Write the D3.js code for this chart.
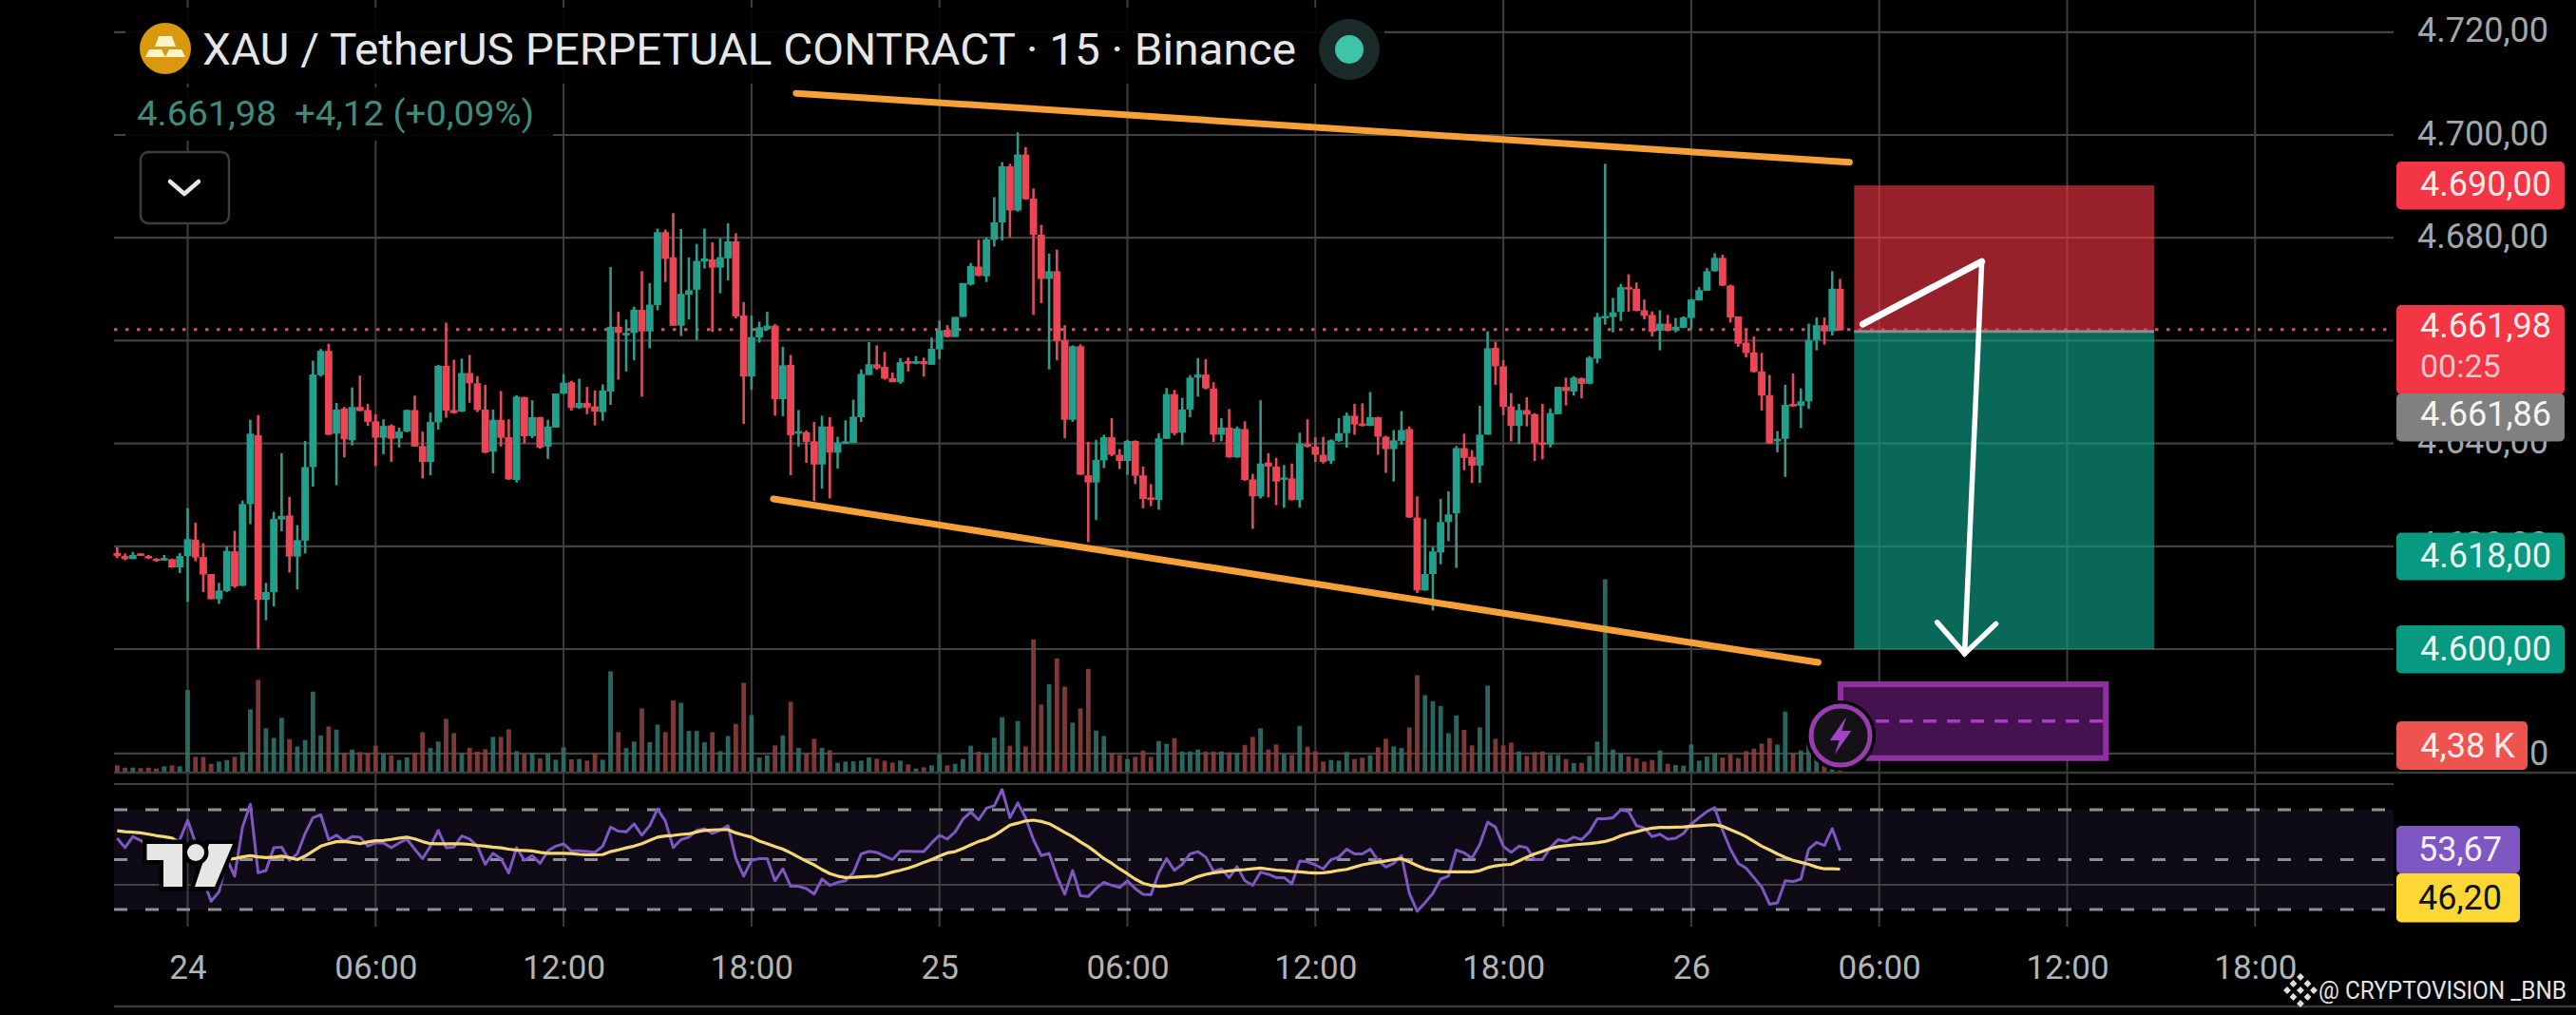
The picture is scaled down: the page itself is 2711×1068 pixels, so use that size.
<!DOCTYPE html>
<html><head><meta charset="utf-8">
<script src="https://cdn.jsdelivr.net/npm/d3@7/dist/d3.min.js"></script>
<style>
html,body{margin:0;padding:0;background:#000;overflow:hidden}
text{font-family:Roboto,sans-serif;white-space:pre}
</style></head><body><svg id="c" width="2711" height="1068"></svg>
<script>
const opens=[4618.7,4618.1,4617.5,4618.6,4618.1,4617.6,4617.3,4617.5,4615.9,4618.1,
4621.3,4617.9,4614.6,4609.7,4611.3,4619,4612.3,4628.2,4641.6,4609.6,
4611.1,4625.2,4626,4618,4621.1,4635.4,4653.3,4658,4641.9,4646.8,
4640.6,4647.1,4646.5,4644.3,4641.1,4643.5,4641,4642.3,4646.5,4639.5,
4636.4,4644.1,4655.1,4646.5,4646.2,4653.7,4651.7,4646.6,4638.4,4644.6,
4641.2,4632.9,4649,4641.4,4645.1,4639.4,4643.1,4649.7,4651.9,4646.9,
4647.9,4647.2,4646.1,4650.1,4662.7,4661.2,4661.5,4666,4661.8,4666.9,
4681.1,4676.2,4662.9,4668.9,4669.9,4675.4,4675.8,4674.2,4676,4679.3,
4664.9,4653,4660.6,4662.2,4662.9,4648.6,4655.3,4641.9,4642.2,4640.4,
4635.9,4643.3,4638.2,4640,4640.1,4645.1,4653.3,4655.4,4654.9,4652.7,
4651.9,4656,4655.5,4656,4655.3,4658.3,4662.1,4660.7,4664.6,4670.9,
4674.4,4672.5,4679.6,4683,4693.9,4685.3,4696.2,4687.6,4680.6,4672,
4673.5,4660.1,4644.6,4658.9,4633.8,4632.4,4636.7,4641.2,4637.8,4636.6,
4640.5,4633.8,4629.5,4629,4640.9,4649.6,4642.1,4646.6,4652.8,4653.4,
4650.7,4641.7,4643.1,4637.3,4642.8,4633,4629.7,4636.3,4635.5,4633.1,
4633.2,4629,4639.9,4639.4,4637.8,4636.6,4640.5,4642,4645.4,4643.9,
4643.4,4645.1,4641.3,4638.9,4640.5,4642.8,4625.6,4611.4,4614.6,4618.8,
4624.7,4626.4,4639.1,4637.4,4635.7,4641.7,4658.6,4655,4647.2,4643.4,
4646.5,4645.7,4640.2,4639.8,4645.7,4651,4650.1,4652.7,4651.6,4656.5,
4664.4,4664.6,4665.6,4670.4,4670.1,4665.9,4665,4661.9,4663.3,4662,
4662.5,4664.4,4667.8,4669.7,4673.5,4676.1,4670.7,4664.7,4659.6,4657.7,
4654,4649.4,4640.4,4640.9,4647.7,4647.3,4648.2,4660.1,4663,4661.8,
4670.1];
const closes=[4618.1,4617.5,4618.3,4618.3,4617.7,4617.2,4617.7,4615.9,4618.1,4621.4,
4617.8,4614.5,4609.7,4611.4,4619.1,4612.2,4628.2,4641.9,4609.6,4611.1,
4625.3,4625.9,4618,4621.2,4635.4,4653.4,4658,4641.7,4646.6,4640.8,
4647.1,4646.3,4644.2,4641.1,4643.4,4640.9,4642.3,4646.5,4639.4,4636.4,
4644.2,4655.1,4646.4,4645.9,4653.7,4651.7,4646.5,4638.2,4644.6,4641.1,
4633,4649.1,4641.4,4645.1,4639.2,4643.3,4649.7,4651.8,4646.9,4647.9,
4646.9,4646.2,4650.3,4662.7,4661.5,4661.5,4666,4661.8,4667,4681.1,
4675.9,4662.9,4669.1,4669.8,4675.5,4676,4674.2,4676.2,4679.3,4664.7,
4653,4660.7,4662.6,4662.9,4648.6,4655.2,4641.6,4642.4,4640.3,4635.9,
4643.3,4638.2,4640.2,4640.4,4645.2,4653.5,4655.4,4654.6,4652.6,4651.9,
4655.8,4655.5,4656,4655.4,4658.4,4662,4660.7,4664.6,4671.2,4674.5,
4672.6,4679.7,4683,4693.9,4685.3,4696.2,4687.5,4680.6,4672,4673.5,
4659.9,4644.6,4658.9,4633.9,4632.4,4636.8,4641.2,4637.8,4636.6,4640.5,
4633.7,4629.2,4629,4641,4649.6,4642,4646.6,4652.8,4653.4,4650.7,
4641.7,4643.1,4637.3,4642.9,4632.9,4629.7,4636.1,4635.5,4632.6,4633.4,
4629,4640,4639.4,4637.8,4636.4,4640.6,4642,4645.4,4643.7,4643.4,
4645.1,4641.3,4638.9,4640.6,4642.6,4625.6,4611.4,4614.6,4619,4624.7,
4626.2,4639.1,4637.2,4635.7,4641.7,4658.5,4655,4647.1,4643.4,4646.5,
4645.6,4640,4639.8,4645.9,4651,4650.2,4652.8,4651.6,4656.7,4664.6,
4664.8,4665.5,4670.4,4670.1,4665.8,4664.8,4661.7,4663.3,4661.9,4662.7,
4664.5,4668,4669.8,4673.5,4676.1,4670.7,4664.5,4659.4,4657.6,4653.9,
4649.3,4640,4640.9,4647.5,4647.2,4648.2,4660.1,4663,4661.8,4670.1,
4661.98];
const highs=[4619.8,4618.6,4618.9,4618.7,4618.3,4617.7,4618.3,4617.6,4618.7,4627.4,
4624.6,4620.6,4614.6,4612.9,4620,4623,4628.9,4644.6,4645.5,4612.9,
4626.7,4638.1,4629.6,4624.1,4640.5,4656.1,4658.4,4659.4,4647.9,4647.1,
4650.9,4653.2,4647.7,4645.7,4644.7,4643.7,4643.1,4646.6,4649.3,4642.3,
4646,4655.3,4663.5,4656.3,4656.5,4657.2,4653.1,4651.4,4646.6,4650.2,
4644.7,4649.4,4649.1,4648.4,4645.2,4644.6,4649.7,4653.5,4652.2,4652.6,
4651,4650.3,4651.5,4674.3,4665.6,4664.1,4666.6,4673.5,4671.2,4681.8,
4681.6,4684.8,4681.7,4676.2,4678.8,4681.8,4679.1,4679.9,4682.8,4680.9,
4667.5,4664.9,4663.7,4665.6,4663.2,4658.8,4657.2,4646.5,4642.5,4644.2,
4645.4,4645.1,4641.3,4644.5,4648.5,4654.4,4659.7,4659.1,4657.8,4653.8,
4656.6,4656.7,4657,4656.7,4660.6,4663.9,4663,4664.6,4671.2,4675.1,
4679.6,4680,4687.9,4694.7,4694.4,4700.5,4697.6,4689.6,4682.5,4676.9,
4677.7,4663,4659.1,4659.3,4640.3,4640.7,4641.7,4644.9,4638.9,4640.7,
4640.6,4635.5,4632.1,4642,4650.8,4650.4,4648.9,4653.3,4656.6,4656.4,
4651.9,4644.9,4646.7,4643.3,4644.3,4634.1,4648.4,4638.1,4637.2,4635.8,
4636.1,4642.1,4644.7,4641.2,4641.3,4640.8,4644.9,4646,4647.7,4647.8,
4650,4645.2,4641.5,4642.6,4646.3,4643.3,4629.7,4625.3,4619.9,4629.2,
4630.7,4639.5,4641.9,4638.7,4647.3,4661.8,4659.8,4656.2,4649.8,4647.7,
4649,4645.9,4647.7,4646.8,4651,4652.8,4653.1,4652.8,4657,4665.4,
4694.4,4668.3,4671,4672.9,4671.3,4668,4665.7,4665.9,4665,4664.4,
4664.7,4668.1,4670.4,4674.1,4677,4676.7,4670.9,4664.7,4661.9,4660.8,
4657.6,4653.3,4642.4,4651.4,4653.6,4650.7,4663.3,4664.5,4664.5,4673.5,
4672];
const lows=[4617.7,4617.3,4617.5,4618.1,4617.5,4617,4617.2,4615.8,4614.8,4609.2,
4617.1,4611.1,4609.7,4608.8,4611.1,4611.9,4612.3,4624.3,4600,4605.6,
4608.3,4622.9,4614.9,4611.6,4618.6,4631.6,4653,4641.6,4631.9,4637.3,
4639.6,4646.3,4643.4,4635.6,4637.9,4636.4,4639.2,4642.2,4639.4,4633.2,
4633.8,4642.7,4645,4645.8,4646.1,4647.9,4646.1,4638.1,4634.2,4639.4,
4632.9,4632.4,4640,4641,4639,4637,4643.1,4649.6,4646.4,4646.7,
4645.7,4643.5,4644.4,4647.5,4652.4,4654,4656.2,4649.1,4658.5,4665.9,
4671.4,4662.9,4660.9,4664.1,4660.1,4674,4661.7,4669.2,4671.7,4664.3,
4643.8,4650.4,4659.6,4662,4645.4,4645.3,4633.8,4639.4,4636.2,4628.8,
4631.2,4629.3,4635.1,4640,4640.1,4644.2,4653.3,4654.3,4652.4,4651.9,
4651.6,4654,4655.4,4653,4655.3,4656.4,4660.6,4660.7,4664.6,4670.7,
4672.5,4671.4,4678.3,4679.5,4680.1,4685.1,4687.4,4665,4667.3,4654.4,
4656.2,4641,4644.2,4633.9,4620.8,4625.1,4635.2,4637.5,4635,4633.9,
4632.1,4627.4,4627.8,4627.1,4640.9,4641.6,4639.7,4645.1,4649.1,4650.5,
4640.3,4640.4,4637.2,4637.2,4632.7,4623.4,4629.3,4629.5,4628,4627.5,
4628.9,4627.5,4639.2,4636.4,4636.1,4636,4640.3,4639.2,4641.7,4643.3,
4643.4,4637.8,4634.3,4632.6,4639.7,4625.5,4610.9,4611.4,4607.5,4616.5,
4621,4615.8,4634.8,4632.3,4632.3,4641.7,4651.4,4645.5,4640.4,4639.9,
4643.3,4636.6,4636.9,4639.2,4645.7,4647.4,4649.3,4648.8,4651.5,4655.6,
4663.1,4661.6,4663.8,4665.6,4665.7,4664.1,4660.8,4658.1,4661.8,4661.6,
4662.4,4662.2,4667.8,4669.7,4673.4,4670.6,4663.5,4658.8,4656.7,4653.8,
4646.4,4639.9,4638.3,4633.5,4647.1,4643,4646.7,4658.1,4659.2,4661,
4661.98];
const volumes=[1.08,.7,.7,.6,.7,.54,.92,1.08,.92,13.95,
2.54,2.54,1.35,1.73,2,2.54,3.35,10.65,15.68,7.41,
5.78,9.19,5.57,4.32,5.41,13.68,6.22,7.73,7.19,3.19,
3.78,3.35,3.24,4.43,3.08,2.81,2,2.43,3.19,6.76,
4.05,5.14,9.03,6.59,3.19,4.05,3.41,3.84,5.95,5.95,
7.24,3.51,2.97,3.19,2.27,3.14,2.05,4.16,2.11,2.16,
1.89,3.08,2.05,17.14,6.76,4.05,5.14,10.81,5.03,8.05,
6.76,12.16,11.78,6.97,6.97,5.03,6.76,3.51,6.11,8.16,
15.19,9.68,2.43,2.81,4.49,6.22,11.95,4.05,3.19,5.62,
4.05,3.68,1.51,1.73,1.78,1.89,2.43,2.22,1.89,1.57,
1.89,1.24,.54,.76,1.08,2.97,1.08,1.35,2.16,4.43,
3.41,3.14,5.78,9.3,4.43,8.65,4.32,22.59,11.46,14.97,
19.35,14.54,8.38,10.81,17.57,7.03,6.11,3.14,2.86,2.16,
2.54,3.62,2.54,5.24,4.76,5.73,3.46,3.46,3.78,3.46,
3.46,3.46,3.3,3.14,4.59,5.95,7.41,3.78,4.65,2.97,
2.86,7.84,4.27,3.51,1.73,2,1.89,3.35,2.16,2.38,
2.81,4.16,5.62,4.32,4.05,7.57,16.49,13.08,12.05,11.24,
6.59,9.62,7.14,4.49,7.57,14.7,5.62,4.49,4.97,3.46,
2.7,3.35,3.46,2.86,2.86,2.16,1.46,1.51,2.7,5.14,
32.86,3.78,3.14,2.59,2.27,1.73,2,3.62,1.35,1.14,
1.03,4.65,1.89,2.59,3.19,2.43,2.97,2.32,3.51,3.95,
4.81,5.73,4.65,10.27,3.19,3.62,5.95,2.97,1.35,.54,
.38];
const rsi=[58.6,54.8,59.2,57.7,55.4,54.2,51.6,54.2,58,65.8,
56.7,41.5,33.3,37.1,50.4,43.4,63,72.2,44.7,45.6,
54.8,55,49.7,52.3,60.5,66.8,68,58,59.8,57.3,
59.2,59,55.4,56.7,56.7,54.8,56.7,58.2,54.2,50.4,
55.4,61.7,54.8,55,59.5,58.2,55.4,48.1,52.5,50.4,
44.7,54.8,49.7,51.6,48.5,53.5,55.4,56.3,53.5,53.5,
53.2,52.9,55.4,63,61.4,61.1,64.3,59.8,63.6,70.3,
65.5,54.8,58,59,61.7,62.4,60.5,61.7,63.6,50.4,
43.4,49.7,50.4,50.4,41.5,46.3,39.3,39.3,38.4,36.2,
42.2,39.7,40.9,41.5,44.7,52.3,53.3,52.9,51.4,50,
53.3,53.3,53.2,53.2,56.7,59.8,58.2,61.1,66.2,69.1,
65.9,70.6,71.6,78.1,66.8,72.7,66.8,58,51.6,52.5,
43.4,36.1,45.6,35.5,35.2,38.4,40.9,39.7,38.8,41.5,
38.4,36.1,35.9,44.7,50.4,45.7,48.1,52.3,53.2,51,
45.3,46.3,42.8,47.2,41.5,39.7,45,44.1,42.8,42.8,
40.3,49.4,49.1,47.9,46.3,50,51,54.2,52.3,52.3,
54.2,49.7,47,48.5,51.6,36.5,29.3,32.7,36.5,42.2,
43.4,53.8,52.7,50.6,56.1,65,63,55.4,52.9,55.4,
54.8,50,50,54.8,58,57.3,59,58,61.1,66.4,
66.4,66.8,69.9,69.3,63.6,62.7,59.2,60.2,58.2,58.6,
60.5,64.3,66.8,69.3,70.8,61.7,54.2,48.5,46.6,42.8,
39,32.1,32.7,41.5,41.2,42.2,54.2,56.9,55.7,62.4,
53.67];
const rsiMa=[61.6,61.2,61,60.7,60.2,59.6,59.2,58.6,56.7,54.2,
52.7,51.4,50.6,50.1,50.1,50.4,51.1,51.6,51.1,50.8,
51,51.4,50.8,50,51.4,53.4,55.4,56.4,57.2,57.3,
56.9,56.4,57.1,57.6,57.7,58.1,58.6,59,58.3,57.2,
56.4,56.3,56.3,56.3,56.3,56.1,55.7,55.4,55,54.7,
54.2,53.8,53.7,53.5,52.9,52.5,52.5,52.5,52.4,52.1,
51.9,51.9,52,53.2,53.9,54.7,55.4,56.4,57.7,59,
59.5,59.7,60.1,60.3,61.1,61.7,61.9,62,62,60.7,
59.8,59,57.4,56.4,55.2,54.2,52.7,51,49.4,47.9,
46,44.4,43.4,42.8,42.9,43.1,43.3,43.4,44.1,45,
45.7,46.6,47.6,48.9,50,51.4,52.7,53.2,54.5,55.9,
57.3,58.2,59.7,61.7,63.8,64.6,65.5,65.8,65.3,64.4,
62.7,60.9,59.2,57.1,55.2,52.9,50.4,48.5,46.3,44.3,
42.2,40.5,39.7,39.3,39.5,40,40.5,41.9,43.2,44.1,
44.7,45.1,45.5,45.8,46,46.3,46.6,46.2,45.8,45.6,
45.3,45.1,44.8,44.6,44.7,45.1,45.7,46.1,47,47.9,
48.5,49,49.5,50,50.4,49.1,47.6,46.3,45.6,45.2,
45.1,45.1,45.1,45.1,45.6,46.8,47.5,47.9,48.1,49.5,
51,52.3,53.3,54.5,55.2,55.6,55.9,56.2,56.4,56.8,
57.3,58.2,59.5,60.5,61.2,62,62.6,62.9,62.9,63,
63.1,63.4,63.6,63.8,64,63.3,62,60.7,59.2,57.3,
55.4,53.9,52.3,50.9,49.7,48.9,48.1,47,46.3,46.3,
46.2];
const priceTicks=[4600,4620,4640,4660,4680,4700,4720];
const timeTicks=[9,33,57,81,105,129,153,177,201,225,249,273];
const timeLabels=["24","06:00","12:00","18:00","25","06:00","12:00","18:00","26","06:00","12:00","18:00"];
const rsiLevels=[30,50,70];
const lastPrice=4661.98, stopPrice=4690, targetPrice=4600;
const upperTrendBars=[86.7,221.2], upperTrendPrices=[4708.1,4694.7];
const lowerTrendBars=[83.8,217.2], lowerTrendPrices=[4629.2,4597.4];
const positionBars=[221.8,260.1];
const arrowBars=[222.9,238.1,235.9], arrowPrices=[4663.2,4675.4,4599.1];
const arrowHeadBars=[232.4,235.9,239.9], arrowHeadPrices=[4605.2,4599.1,4604.9];
const zoneBars=[219.7,254.3], zoneVolumes=[15.42,1.83];

const svg=d3.select("#c");
const x=d3.scaleLinear().domain([9,33]).range([197.5,395.3]);
const y=d3.scaleLinear().domain([4600,4700]).range([683,142]);
const yV=d3.scaleLinear().domain([0,10]).range([812,750.4]);
const yR=d3.scaleLinear().domain([30,70]).range([957,852]);
const L=120,R=2519;
const UP="#22a08c",DN="#ec4555";
const idx=d3.range(opens.length);
const isUp=i=>closes[i]>=opens[i];
const GRID="#424242";

// RSI band
svg.append("rect").attr("x",L).attr("y",yR(70)).attr("width",R-L).attr("height",yR(30)-yR(70)).attr("fill","#0e0b16");
// vertical grid
svg.append("g").selectAll("line").data(timeTicks).join("line")
 .attr("x1",d=>x(d)).attr("x2",d=>x(d)).attr("y1",0).attr("y2",975)
 .attr("stroke","#3e3e3e").attr("stroke-width",2);
// horizontal grid
const gridYs=priceTicks.map(y).concat([yV(3.1),825,931]);
svg.append("g").selectAll("line").data(gridYs).join("line")
 .attr("x1",L).attr("x2",R).attr("y1",d=>d).attr("y2",d=>d).attr("stroke",GRID).attr("stroke-width",2.2);
svg.append("g").selectAll("line").data([813,1059]).join("line")
 .attr("x1",L).attr("x2",2711).attr("y1",d=>d).attr("y2",d=>d).attr("stroke","#3a3a3a").attr("stroke-width",2.5);
// legend backdrops hide the grid behind the header text
svg.append("rect").attr("x",132).attr("y",8).attr("width",1325).attr("height",80).attr("fill","#000").attr("opacity",.9);
svg.append("rect").attr("x",132).attr("y",92).attr("width",450).attr("height",56).attr("fill","#000").attr("opacity",.9);

// volume
svg.append("g").selectAll("rect").data(idx).join("rect")
 .attr("x",i=>x(i)-2.4).attr("width",4.8)
 .attr("y",i=>yV(volumes[i])).attr("height",i=>yV(0)-yV(volumes[i]))
 .attr("fill",i=>isUp(i)?"#2f6f66":"#8a3d3d").attr("fill-opacity",.92);

// last price dotted line
svg.append("line").attr("x1",L).attr("x2",R).attr("y1",y(lastPrice)-1).attr("y2",y(lastPrice)-1)
 .attr("stroke","#c25a5e").attr("stroke-width",3).attr("stroke-dasharray","3.5 8.5");

// position tool
svg.append("rect").attr("x",x(positionBars[0])).attr("width",x(positionBars[1])-x(positionBars[0]))
 .attr("y",y(stopPrice)-1).attr("height",y(lastPrice)-y(stopPrice)+1).attr("fill","#f23645").attr("fill-opacity",.62);
svg.append("rect").attr("x",x(positionBars[0])).attr("width",x(positionBars[1])-x(positionBars[0]))
 .attr("y",y(lastPrice)).attr("height",y(targetPrice)-y(lastPrice)).attr("fill","#0e9a82").attr("fill-opacity",.68);
svg.append("line").attr("x1",x(positionBars[0])).attr("x2",x(positionBars[1])).attr("y1",y(lastPrice)+1).attr("y2",y(lastPrice)+1).attr("stroke","#8f8f8f").attr("stroke-width",3);

// candles
const cg=svg.append("g");
cg.selectAll("line").data(idx).join("line")
 .attr("x1",i=>x(i)).attr("x2",i=>x(i)).attr("y1",i=>y(highs[i])).attr("y2",i=>y(lows[i]))
 .attr("stroke",i=>isUp(i)?"#35998b":"#e34c5c").attr("stroke-width",2.6);
cg.selectAll("rect").data(idx).join("rect")
 .attr("x",i=>x(i)-3.9).attr("width",7.8)
 .attr("y",i=>y(Math.max(opens[i],closes[i])))
 .attr("height",i=>Math.max(2.5,Math.abs(y(opens[i])-y(closes[i]))))
 .attr("fill",i=>isUp(i)?UP:DN);

// trend lines
const trend=(bars,prices)=>svg.append("line")
 .attr("x1",x(bars[0])).attr("y1",y(prices[0])).attr("x2",x(bars[1])).attr("y2",y(prices[1]))
 .attr("stroke","#f5a138").attr("stroke-width",7).attr("stroke-linecap","round");
trend(upperTrendBars,upperTrendPrices);
trend(lowerTrendBars,lowerTrendPrices);

// hand-drawn arrow
const ln=d3.line().x(d=>x(d[0])).y(d=>y(d[1]));
svg.append("path").attr("d",ln([[arrowBars[0],arrowPrices[0]],[arrowBars[1],arrowPrices[1]]]))
 .attr("fill","none").attr("stroke","#fff").attr("stroke-width",7).attr("stroke-linecap","round");
svg.append("path").attr("d",ln([[arrowBars[1],arrowPrices[1]],[arrowBars[2],arrowPrices[2]]]))
 .attr("fill","none").attr("stroke","#fff").attr("stroke-width",5.5).attr("stroke-linecap","round");
svg.append("path").attr("d",ln(arrowHeadBars.map((b,i)=>[b,arrowHeadPrices[i]])))
 .attr("fill","none").attr("stroke","#fff").attr("stroke-width",5.5).attr("stroke-linecap","round").attr("stroke-linejoin","miter");

// purple zone
const zx0=x(zoneBars[0]),zx1=x(zoneBars[1]),zy0=yV(zoneVolumes[0]),zy1=yV(zoneVolumes[1]);
svg.append("rect").attr("x",zx0+3).attr("y",zy0+3).attr("width",zx1-zx0-6).attr("height",zy1-zy0-6)
 .attr("fill","#45124f").attr("stroke","#8e2fa2").attr("stroke-width",6);
svg.append("line").attr("x1",zx0+40).attr("x2",zx1-6).attr("y1",(zy0+zy1)/2).attr("y2",(zy0+zy1)/2)
 .attr("stroke","#a83cc4").attr("stroke-width",3.5).attr("stroke-dasharray","14 11");
svg.append("circle").attr("cx",zx0+3).attr("cy",774).attr("r",37).attr("fill","#000");
svg.append("circle").attr("cx",zx0+3).attr("cy",774).attr("r",31).attr("fill","#141216").attr("stroke","#9a3bb0").attr("stroke-width",5);
svg.append("polygon").attr("transform",`translate(${zx0+3},774) scale(1.25)`)
 .attr("points","5,-16 -9,4 -1,4 -5,16 9,-4 1,-4").attr("fill","#a542c6");

// RSI
svg.append("g").selectAll("line").data(rsiLevels).join("line")
 .attr("x1",L).attr("x2",R-9).attr("y1",d=>yR(d)).attr("y2",d=>yR(d))
 .attr("stroke","#8f8f96").attr("stroke-width",3).attr("stroke-dasharray","14 19");
const rl=d3.line().x((d,i)=>x(i)).y(d=>yR(d));
svg.append("path").attr("d",rl(rsi)).attr("fill","none").attr("stroke","#7e57c2").attr("stroke-width",3).attr("stroke-linejoin","round");
svg.append("path").attr("d",rl(rsiMa)).attr("fill","none").attr("stroke","#f6d776").attr("stroke-width",3.2).attr("stroke-linejoin","round");

// TradingView mark
const logo=svg.append("g").attr("fill","#e6e6e6").attr("stroke","#000").attr("stroke-width",9).attr("paint-order","stroke");
logo.append("polygon").attr("points","154.5,888 192,888 192,933 172,933 172,905 154.5,905");
logo.append("polygon").attr("points","220,888 245,888 226,933 205,933");
logo.append("circle").attr("cx",206).attr("cy",897).attr("r",9);

// axes
const fmt=d3.formatLocale({decimal:",",thousands:".",grouping:[3],currency:["",""]}).format(",.2f");
const yAxis=svg.append("g").call(d3.axisRight(y).tickValues(priceTicks).tickFormat(fmt).tickSize(0));
yAxis.select(".domain").remove();
yAxis.selectAll("text").attr("x",2682).attr("text-anchor","end").attr("dy",".28em")
 .attr("font-size",36).attr("fill","#a6a6a6").attr("font-family","Roboto");
const xAxis=svg.append("g").attr("transform","translate(0,1018)")
 .call(d3.axisBottom(x).tickValues(timeTicks).tickFormat((d,i)=>timeLabels[i]).tickSize(0));
xAxis.select(".domain").remove();
xAxis.selectAll("text").attr("y",0).attr("dy",".35em").attr("font-size",35).attr("fill","#b4b4b4").attr("font-family","Roboto");

// price labels
const tag=(x0,y0,w,h,fill)=>svg.append("rect").attr("x",x0).attr("y",y0).attr("width",w).attr("height",h).attr("rx",5).attr("fill",fill);
const txt=(s,xp,yp,size,fill,anchor,len)=>{const t=svg.append("text").attr("x",xp).attr("y",yp).attr("dy",".35em").attr("font-size",size).attr("fill",fill).attr("text-anchor",anchor||"start").text(s);
 if(len)t.attr("textLength",len).attr("lengthAdjust","spacingAndGlyphs");return t;};
const fmtS=fmt;
tag(2522,170,177,50.5,"#f23645");txt(fmtS(stopPrice),2547,193,36,"#fde9e9");
tag(2522,321,177,94,"#f23645");txt(fmtS(lastPrice),2547,342,36,"#fde9e9");txt("00:25",2547,385,34,"#f8c5c8");
tag(2522,414,177,50.5,"#808080");txt(fmtS(4661.86),2547,435,36,"#f4f4f4");
tag(2522,560.5,177,50,"#089981");txt(fmtS(4618),2547,584,36,"#e8f6f3");
tag(2522,658,177,50.5,"#089981");txt(fmtS(targetPrice),2547,682,36,"#e8f6f3");
tag(2522,759,138,51,"#ef5350");txt("4,38 K",2597,784,36,"#fdecec","middle");
txt("0",2672,792,36,"#a6a6a6","middle");
tag(2522,869,130,50,"#7e57c2");txt("53,67",2589,893,36,"#f3eefb","middle");
tag(2522,919,130,51.5,"#fdd835");txt("46,20",2589,944,36,"#111","middle");

// header
svg.append("circle").attr("cx",174).attr("cy",51).attr("r",27).attr("fill","#d9980e");
svg.append("g").attr("fill","#fdf3c8").selectAll("polygon")
 .data(["167,38 181,38 185,49 163,49","157,52 170,52 174,60 153,60","178,52 191,52 195,60 174,60"]).join("polygon").attr("points",d=>d);
txt("XAU / TetherUS PERPETUAL CONTRACT · 15 · Binance",213,52,47,"#e6e6e6","start",1151);
svg.append("circle").attr("cx",1420).attr("cy",52).attr("r",32).attr("fill","#1a2b2a");
svg.append("circle").attr("cx",1420).attr("cy",52).attr("r",15).attr("fill","#3ec4a8");
txt("4.661,98  +4,12 (+0,09%)",144,119,36,"#3f8c7c","start",418);
svg.append("rect").attr("x",148).attr("y",160).attr("width",93).attr("height",75).attr("rx",8).attr("fill","#000").attr("stroke","#3d3d3d").attr("stroke-width",2.5);
svg.append("path").attr("d","M179,191 L194,204 L209,191").attr("fill","none").attr("stroke","#e6e6e6").attr("stroke-width",4.5).attr("stroke-linecap","round").attr("stroke-linejoin","round");

// watermark
const wm=svg.append("g").attr("fill","#dedede").attr("transform","translate(2421,1042)");
[[0,-14],[-7.5,-7],[7.5,-7],[-14,0],[0,0],[14,0],[-7.5,7],[7.5,7],[0,14]].forEach(p=>{
 wm.append("rect").attr("x",p[0]-2.8).attr("y",p[1]-2.8).attr("width",5.6).attr("height",5.6).attr("transform",`rotate(45 ${p[0]} ${p[1]})`);
});
txt("@ CRYPTOVISION _BNB",2440,1042,25,"#e4e4e4","start",261);
</script></body></html>
